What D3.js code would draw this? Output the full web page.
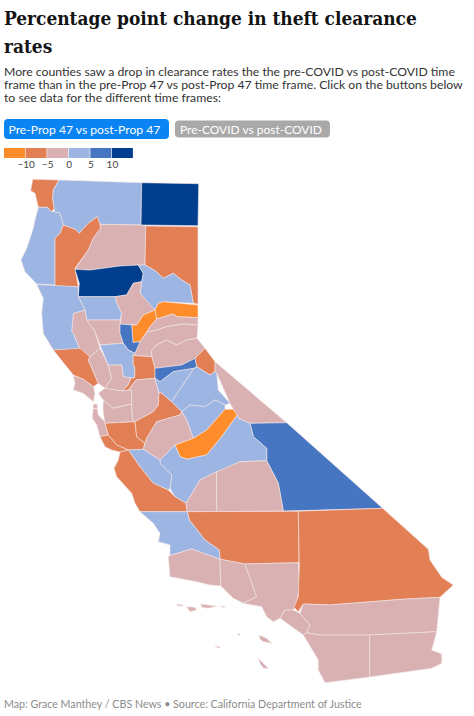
<!DOCTYPE html>
<html>
<head>
<meta charset="utf-8">
<script src="https://cdn.jsdelivr.net/npm/d3@7"></script>
<style>
html, body { margin: 0; padding: 0; background: #fff; }
svg { display: block; }
.body-text { font-family: Lato, sans-serif; fill: #333; }
.btn-text { font-family: Lato, sans-serif; fill: #fff; }
</style>
</head>
<body>
<svg id="chart"></svg>
<script>
var width = 474;
var height = 716;

var titleLines = ["Percentage point change in theft clearance", "rates"];
var introLines = [
    "More counties saw a drop in clearance rates the the pre-COVID vs post-COVID time",
    "frame than in the pre-Prop 47 vs post-Prop 47 time frame. Click on the buttons below",
    "to see data for the different time frames:"
];
var footer = "Map: Grace Manthey / CBS News \u2022 Source: California Department of Justice";
var buttonLabels = ["Pre-Prop 47 vs post-Prop 47", "Pre-COVID vs post-COVID"];

var legendTicks = [-10, -5, 0, 5, 10];
var bandColors = ["#ff8c2a", "#e27f55", "#d9b1b3", "#9cb5e3", "#4675c2", "#023e8e"];

// estimated from the colour band of each county
var countyNames = ["Del Norte","Siskiyou","Modoc","Humboldt","Trinity","Shasta","Lassen","Tehama","Plumas","Butte",
    "Sierra","Yuba","Nevada","Placer","El Dorado","Alpine","Mono","Inyo","Glenn","Colusa",
    "Sutter","Lake","Mendocino","Sonoma","Napa","Yolo","Sacramento","Solano","Marin","Contra Costa",
    "Alameda","San Francisco","San Mateo","Santa Clara","Santa Cruz","San Joaquin","Stanislaus","Amador","Calaveras","Tuolumne",
    "Mariposa","Merced","Madera","Fresno","San Benito","Monterey","Kings","Tulare","Kern","San Luis Obispo",
    "Santa Barbara","Ventura","Los Angeles","San Bernardino","Orange","Riverside","San Diego","Imperial"];
var countyChange = [-7,3,12,2,-8,-2,-7,13,3,-1,
    -12,-11,-3,-2,-1,-6,-3,7,2,-2,
    6,-3,3,-6,-2,2,-7,-1,-3,-1,
    -2,-1,-2,-6,-7,-3,-6,7,3,2,
    3,-2,-11,2,3,-7,-2,-1,-7,3,
    -3,-2,-1,-7,-2,-2,-1,-3];

var countyShapes = [
[[32.7,179.3],[59,180],[53.3,190],[52.7,198.3],[54.3,208.3],[51.7,211.7],[47.3,207.3],[38.3,207.3],[35,193.3],[30.7,190.7]],
[[59,180],[141.7,182.7],[141,225],[100,224.3],[97.3,216.7],[88.3,223.3],[82.7,229.3],[79.3,233.3],[75,229.3],[63.3,225],[60,213.3],[54.3,211.7],[54.3,208.3],[52.7,198.3],[53.3,190]],
[[141.7,182.7],[198.7,183.7],[198,225.7],[141,225]],
[[38.3,207.3],[47.3,207.3],[51.7,211.7],[54.3,211.7],[60,213.3],[63.3,225],[60,233.3],[55,238.3],[55,285],[36.7,284],[25,271.7],[21,260],[26.7,248.3],[33.3,228.3],[35,220]],
[[63.3,225],[75,229.3],[79.3,233.3],[82.7,229.3],[88.3,223.3],[97.3,216.7],[100,224.3],[100.7,228.3],[93.3,238.3],[88.3,250],[75,268.3],[78.3,286.7],[55,286.7],[55,238.3],[60,233.3]],
[[100,224.3],[141,225],[145.7,226],[145,265],[138.3,265],[120,266],[90,270],[75,269.3],[88.3,250],[93.3,238.3],[100.7,228.3]],
[[145.7,226],[198,226.7],[198,304],[193.3,303.3],[190,285],[181.7,280],[173.3,273.3],[163.3,278.3],[156.7,271.7],[145,265]],
[[75,269.3],[90,270],[120,266],[138.3,265],[143.3,273.3],[141.7,281.7],[133.3,283.3],[126.7,295],[115,296.7],[78.3,296.7],[79.3,283.3]],
[[138.3,265],[145,265],[156.7,271.7],[163.3,278.3],[173.3,273.3],[181.7,280],[190,285],[193.3,303.3],[163.3,301.7],[158.3,303.3],[155,310],[150,306.7],[140,293.3],[141.7,281.7],[143.3,273.3]],
[[141.7,281.7],[140,293.3],[155,310],[143.3,315],[136.7,325],[120,324],[121.7,313.3],[116.7,303.3],[115,296.7],[126.7,295],[133.3,283.3]],
[[158.3,303.3],[163.3,301.7],[198,305],[198,317.7],[176.7,316.7],[173.3,314],[156.7,319],[155,310]],
[[155,310],[156.7,319],[150,326.7],[146.7,332],[140,341.7],[133,342.5],[131.7,325],[136.7,325],[143.3,315]],
[[156.7,319],[173.3,314],[176.7,316.7],[198,317.7],[198,325],[183,324],[166.7,326.7],[156.7,330],[146.7,332],[150,326.7]],
[[146.7,332],[156.7,330],[166.7,326.7],[183,324],[198,325],[197,338.3],[186.7,340],[176.7,345],[166.7,340],[156.7,345],[151.7,350],[151.7,356.7],[133,355.5],[135,353.3],[140,341.7]],
[[151.7,350],[156.7,345],[166.7,340],[176.7,345],[186.7,340],[197,338.3],[205,348.3],[195,358.3],[181.7,365],[155,368.3],[151.7,356.7]],
[[205,348.3],[215,361.7],[215,371.7],[210,375],[196.7,366.7],[195,358.3]],
[[215,361.7],[286.7,422.7],[250,423.3],[238.3,418.3],[230,403.3],[216.7,373.3],[215,371.7]],
[[250,423.3],[286.7,422.7],[382.7,508.3],[283.3,511],[278.3,483.3],[266.7,460.7],[266.7,448.3],[253.3,436.7]],
[[78.3,296.7],[115,296.7],[116.7,303.3],[121.7,313.3],[120,320],[86.7,320],[85,310],[80,300]],
[[86.7,320],[120,320],[120,324],[120,333.3],[123.3,343.3],[100,345],[95,331.7]],
[[120,324],[131.7,325],[133,342.5],[140,341.7],[135,353.3],[128.3,350],[123.3,343.3],[120,333.3]],
[[71.7,331.7],[73.3,313.3],[85,310],[86.7,320],[95,331.7],[100,348.3],[90,356.7],[80,350],[73.3,333.3]],
[[36.7,284.5],[78.3,286.7],[78.3,296.7],[80,300],[85,310],[73.3,313.3],[71.7,331.7],[73.3,333.3],[80,350],[53.3,350],[43.3,333.3],[41.7,313.3],[43.3,298.3]],
[[53.3,350],[80,348.3],[90,356.7],[88.3,360],[98.3,383.3],[93.3,386.7],[83.3,379.3],[73.3,375]],
[[90,356.7],[100,348.3],[108.3,365],[111.7,378.3],[105,388.3],[98.3,383.3],[88.3,360]],
[[100,345],[123.3,343.3],[128.3,350],[135,353.3],[133,355.5],[133.3,365],[135,368],[134.5,378],[131,378],[123.3,376.7],[121.7,365],[108.3,365]],
[[133,355.5],[151.7,356.7],[155,368.3],[155,378.3],[136,380],[128.3,390],[121.7,391],[128,385],[131,378],[134.5,378],[135,368],[133.3,365]],
[[108.3,365],[121.7,365],[123.3,376.7],[131,378],[128,385],[121.7,391],[105,388.3],[111.7,378.3]],
[[73.3,375.5],[83.3,379.3],[93.3,386.7],[95,393.3],[93.3,401.7],[83.3,393.3],[73.3,390],[75,383.3]],
[[98.3,393.3],[105,388.3],[121.7,391],[128.3,390],[131.7,390],[131.7,404],[113.3,408.3],[103.3,400]],
[[103.3,400],[113.3,408.3],[131.7,404],[132.7,420],[135,421.7],[105,423.3],[103,410]],
[[93.3,404],[97.3,404.5],[97.3,408.3],[93,408]],
[[93,408.5],[97.3,408.8],[98.3,415],[105,421.7],[105,423.3],[108.3,435],[100,436.7],[96.7,425],[92.3,418.3]],
[[105,423.3],[135,421.7],[136.7,436.7],[145,443.3],[143.3,449.3],[128.3,450],[116.7,445],[108.3,435]],
[[100,436.7],[108.3,435],[116.7,445],[128.3,450],[120,452],[111.7,450],[105,446.7]],
[[128.3,390],[136,380],[155,378.3],[159,393.3],[158.3,405],[153.3,411.7],[135,421.7],[132.7,420],[131.7,404],[131.7,390]],
[[135,421.7],[153.3,411.7],[158.3,405],[159,393.3],[160,391.7],[171.7,401.7],[181.7,411.7],[180,415],[156.7,421.7],[146.7,438.3],[145,443.3],[136.7,436.7]],
[[155,368.3],[181.7,365],[195,358.3],[196.7,366.7],[194,368.3],[173.3,371.7],[160,381.7],[155,378.3]],
[[155,378.3],[160,381.7],[173.3,371.7],[194,368.3],[171.7,401.7],[160,391.7],[159,393.3]],
[[194,368.3],[196.7,366.7],[210,375],[215,371.7],[216.7,373.3],[218.3,390],[230,403.3],[225,405],[215,400],[205,406.7],[190,405],[181.7,411.7],[171.7,401.7]],
[[181.7,411.7],[190,405],[205,406.7],[215,400],[225,405],[225,409.3],[206.7,430],[193.3,438.3],[186.7,420]],
[[145,443.3],[146.7,438.3],[156.7,421.7],[180,415],[181.7,411.7],[186.7,420],[193.3,438.3],[175,445],[160,460],[146,451],[143.3,449.3]],
[[175,445],[193.3,438.3],[206.7,430],[225,409.3],[233.3,409.3],[237.3,415],[221.7,436.7],[206.7,455],[186.7,459.3],[180,456.7]],
[[160,460],[175,445],[180,456.7],[186.7,459.3],[206.7,455],[221.7,436.7],[237.3,415],[238.3,418.3],[250,423.3],[253.3,436.7],[266.7,448.3],[266.7,460.7],[240,461.7],[226.7,468.3],[216.7,471.7],[200,480],[186,503.3],[175,496.7],[170,488.3],[171.7,475],[160,463.3]],
[[128.3,450],[143.3,449.3],[146,451],[160,460],[160,463.3],[171.7,475],[170,488.3],[168.3,490],[153.3,483.3],[140,466.7]],
[[120,452],[128.3,450],[140,466.7],[153.3,483.3],[168.3,490],[175,496.7],[186,503.3],[187.3,511.7],[140,511.7],[135,503.3],[131.7,493.3],[116.7,476.7],[114,468.3],[118.3,460]],
[[186,503.3],[200,480],[216.7,471.7],[216.7,511.7],[187.3,511.7]],
[[216.7,471.7],[240,461.7],[266.7,460.7],[278.3,483.3],[283.3,511],[216.7,511.7]],
[[187.3,511.7],[298.3,511.2],[299,562.7],[245,564],[220,559.3],[219.3,550],[205,540],[189.3,520]],
[[140,511.7],[187.3,511.7],[189.3,520],[205,540],[219.3,550],[220,559.3],[191.7,549],[170,555.5],[170,545],[158.3,541.7],[160,533.3],[153.3,523.3]],
[[168.3,556.7],[170,555.5],[191.7,549],[220,559.3],[220.7,586],[210,585],[196.7,581.7],[170,576.7]],
[[220,559.3],[245,564],[256.7,596.7],[243.3,603.3],[233.3,598.3],[220.7,586]],
[[245,564],[298.3,562.7],[299.3,586.7],[296.7,603.3],[293.3,610],[285,610],[280,618.3],[273.3,621.7],[266.7,616.7],[261.7,606.7],[243.3,603.3],[256.7,596.7]],
[[298.3,511.2],[382.7,508.3],[428.3,549.3],[430,560],[441.7,577.3],[453.3,585],[440,597.3],[401.7,599.3],[330,605],[303.3,604],[298.3,611.7],[294,607.3],[298.3,596.7],[299.3,566.7]],
[[285,610],[293.3,610],[300,613.3],[310,625],[306.7,633.3],[303.3,635],[280,618.3]],
[[300,613.3],[303.3,604],[330,605],[401.7,599.3],[440,597.3],[438.3,615],[436.7,631.7],[370,635],[320,635],[306.7,632.7],[310,625]],
[[306.7,632.7],[320,635],[369.7,635],[369.7,677],[325,682.7],[318.3,670],[318.3,660],[303.3,635]],
[[369.7,635],[436.7,631.7],[431.7,650],[441.7,654],[441.7,663.3],[431.7,668.3],[369.7,677]]
];

// channel and southern islands, all in the pink band
var islandChange = [-2,-2,-2,-2,-2,-2,-2,-2];
var islandShapes = [
[[176.7,604],[183,605],[182.3,606.3],[177,605.5]],
[[186.7,606.7],[195,607.3],[196.7,610],[190,611.7]],
[[200.7,604],[208.3,605],[216.7,606],[208.3,608.3],[201.7,607.3]],
[[220.7,606],[225,606.5],[224.5,607.5],[221,607]],
[[238,633.5],[240,634],[239.5,635.5],[238,635]],
[[259.3,635],[266.7,638.3],[271.7,643.3],[263.3,641.7],[260,639.3]],
[[215,645.7],[220.7,647.3],[219.3,648.3],[216,647]],
[[258.3,658.3],[263.3,663.3],[268.3,668.3],[263.3,668.3],[260,663.3]]
];

var svg = d3.select("svg#chart")
    .attr("width", width)
    .attr("height", height);

// size a text so that it spans a given width
function fitText(sel, target) {
    sel.style("font-size", "10px");
    var len = sel.node().getComputedTextLength();
    var size = 10 * target / len;
    sel.style("font-size", size + "px");
    return size;
}

// title and intro
var titleText = svg.selectAll("text.title")
    .data(titleLines)
    .enter().append("text")
    .attr("class", "title")
    .attr("x", 4)
    .attr("y", function(d, i) { return 25 + i * 27.5; })
    .style("font-family", "'DejaVu Serif Condensed', 'DejaVu Serif', serif")
    .style("font-weight", "bold")
    .attr("fill", "#141414")
    .text(function(d) { return d; });
var titleSize = fitText(d3.select(titleText.nodes()[0]), 413);
titleText.style("font-size", titleSize + "px");

var introText = svg.selectAll("text.body-text")
    .data(introLines)
    .enter().append("text")
    .attr("class", "body-text")
    .attr("x", 4)
    .attr("y", function(d, i) { return 75.5 + i * 13.2; })
    .text(function(d) { return d; });
var introSize = fitText(d3.select(introText.nodes()[1]), 459);
introText.style("font-size", introSize + "px");

// buttons
var buttons = [
    { x: 4, y: 119, w: 165, h: 20, fill: "#0a84f2", tx: 8.5, tw: 152 },
    { x: 175, y: 120.5, w: 155, h: 17, fill: "#a9a9a9", tx: 180, tw: 142 }
];
svg.selectAll("rect.btn")
    .data(buttons)
    .enter().append("rect")
    .attr("class", "btn")
    .attr("x", function(d) { return d.x; })
    .attr("y", function(d) { return d.y; })
    .attr("width", function(d) { return d.w; })
    .attr("height", function(d) { return d.h; })
    .attr("rx", 4)
    .attr("fill", function(d) { return d.fill; });
svg.selectAll("text.btn-text")
    .data(buttons)
    .enter().append("text")
    .attr("class", "btn-text")
    .attr("x", function(d) { return d.tx; })
    .attr("y", 133.5)
    .text(function(d, i) { return buttonLabels[i]; })
    .each(function(d) { fitText(d3.select(this), d.tw); });

// legend
var legendScale = d3.scaleLinear().domain([-15, 15]).range([4, 133.5]);
var color = d3.scaleThreshold().domain(legendTicks).range(bandColors);
var bandEdges = [-15].concat(legendTicks, [15]);

svg.selectAll("rect.legend")
    .data(bandColors)
    .enter().append("rect")
    .attr("class", "legend")
    .attr("x", function(d, i) { return legendScale(bandEdges[i]); })
    .attr("y", 148)
    .attr("width", function(d, i) { return legendScale(bandEdges[i + 1]) - legendScale(bandEdges[i]) - 0.6; })
    .attr("height", 10)
    .attr("fill", function(d) { return d; });

var legendAxis = svg.append("g")
    .attr("transform", "translate(0,158)")
    .call(d3.axisBottom(legendScale).tickValues(legendTicks).tickSize(0).tickPadding(3));
legendAxis.select(".domain").remove();
legendAxis.selectAll("text")
    .style("font-family", "Lato, sans-serif")
    .style("font-size", "10px")
    .attr("fill", "#444");

// map
var features = countyShapes.map(function(ring, i) {
    return { type: "Feature", properties: { name: countyNames[i], value: countyChange[i] },
             geometry: { type: "Polygon", coordinates: [ring.concat([ring[0]])] } };
});
var islands = islandShapes.map(function(ring, i) {
    return { type: "Feature", properties: { name: "Island", value: islandChange[i] },
             geometry: { type: "Polygon", coordinates: [ring.concat([ring[0]])] } };
});
var path = d3.geoPath(d3.geoIdentity());

svg.append("g")
    .selectAll("path")
    .data(features.concat(islands))
    .enter().append("path")
    .attr("d", path)
    .attr("fill", function(d) { return color(d.properties.value); })
    .attr("stroke", "#f3e6e6")
    .attr("stroke-width", 0.6)
    .attr("stroke-linejoin", "round");

fitText(svg.append("text")
    .attr("x", 4)
    .attr("y", 708)
    .style("font-family", "Lato, sans-serif")
    .attr("fill", "#8c8c8c")
    .text(footer), 358);
</script>
</body>
</html>
